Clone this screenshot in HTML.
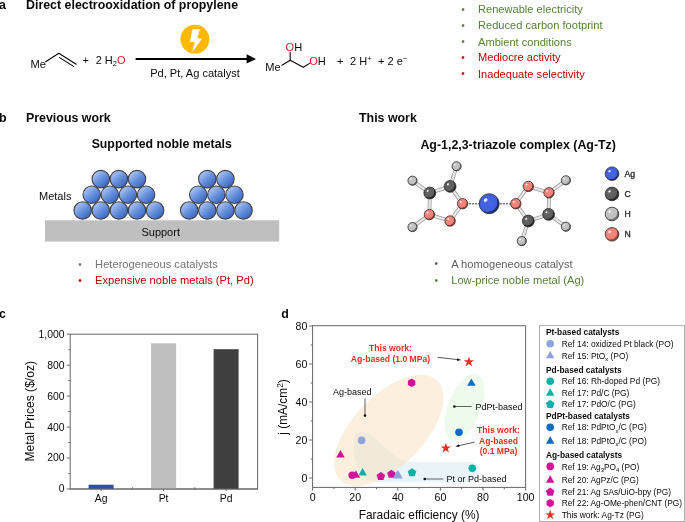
<!DOCTYPE html>
<html><head><meta charset="utf-8"><title>Figure</title>
<style>
html,body{margin:0;padding:0;background:#fff;}
svg{display:block;font-family:"Liberation Sans",sans-serif;}
text{fill:#0a0a0a;}
.b{font-weight:700;}
.g{fill:#548235;}
.r{fill:#c00000;}
.gy{fill:#747474;}
.gy2{fill:#5e5e5e;}
.tw{fill:#e0301e;font-weight:700;}
</style></head><body>
<svg width="685" height="522" viewBox="0 0 685 522">
<defs>
<linearGradient id="mb" x1="0.15" y1="0.1" x2="0.85" y2="0.9"><stop offset="0" stop-color="#b0c8f4"/><stop offset="0.5" stop-color="#6891dd"/><stop offset="1" stop-color="#3863be"/></linearGradient>
<radialGradient id="gAg" cx="0.42" cy="0.42" r="0.5"><stop offset="0" stop-color="#4766e6"/><stop offset="0.94" stop-color="#3f5fe0"/><stop offset="0.985" stop-color="#25348a"/><stop offset="1" stop-color="#222f80"/></radialGradient>
<radialGradient id="gC" cx="0.40" cy="0.40" r="0.5"><stop offset="0" stop-color="#666"/><stop offset="0.92" stop-color="#5b5b5b"/><stop offset="0.985" stop-color="#2b2b2b"/><stop offset="1" stop-color="#262626"/></radialGradient>
<radialGradient id="gH" cx="0.40" cy="0.40" r="0.5"><stop offset="0" stop-color="#c6c6c6"/><stop offset="0.92" stop-color="#bdbdbd"/><stop offset="0.985" stop-color="#7a7a7a"/><stop offset="1" stop-color="#747474"/></radialGradient>
<radialGradient id="gN" cx="0.40" cy="0.40" r="0.5"><stop offset="0" stop-color="#f28b80"/><stop offset="0.92" stop-color="#ee8076"/><stop offset="0.985" stop-color="#a84a42"/><stop offset="1" stop-color="#a0443c"/></radialGradient>
</defs>
<rect width="685" height="522" fill="#fff"/>

<text class="b" x="-0.9" y="9.2" font-size="12.4">a</text>
<text class="b" x="26" y="9.2" font-size="12.4">Direct electrooxidation of propylene</text>
<text x="30.4" y="67.9" font-size="11.1">Me</text>
<g stroke="#000" stroke-width="1.05" fill="none" stroke-linecap="round" stroke-linejoin="round"><path d="M45.6 61.8 L58.8 53.2 L76.2 64.2"/><path d="M59.6 57.6 L73.6 66.4"/></g>
<text x="82.5" y="64" font-size="11">+</text>
<text x="95.7" y="64" font-size="11">2 H<tspan font-size="7.5" dy="2.2">2</tspan><tspan dy="-2.2" fill="#d41c1c">O</tspan></text>
<path d="M135.6 58.9 H248" stroke="#000" stroke-width="2" fill="none"/><path d="M246.6 54.3 L256 58.9 L246.6 63.5 Z" fill="#000"/>
<circle cx="194.9" cy="39.25" r="14.4" fill="#ffb902"/>
<path d="M192.5 29.2 L199.9 29.2 L197.2 38.3 L201.9 38.7 L192.2 52.3 L194.8 42.2 L189.9 41.8 Z" fill="#fff"/>
<text x="150.2" y="76.6" font-size="11.05">Pd, Pt, Ag catalyst</text>
<text x="265.3" y="71.2" font-size="11.1">Me</text>
<g stroke="#000" stroke-width="1.05" fill="none" stroke-linecap="round" stroke-linejoin="round"><path d="M281.9 65.2 L290.2 60.2 L303.3 67.2 L309.6 63.4"/><path d="M290.2 60.2 V52.4"/></g>
<text x="285.6" y="50.9" font-size="11.1"><tspan fill="#d41c1c">O</tspan>H</text>
<text x="309.2" y="65.4" font-size="11.1"><tspan fill="#d41c1c">O</tspan>H</text>
<text x="337" y="64.7" font-size="11">+</text>
<text x="350" y="64.7" font-size="11">2 H<tspan font-size="7.6" dy="-3.2">+</tspan></text>
<text x="378" y="64.7" font-size="11">+ 2 e<tspan font-size="7.6" dy="-3.2">−</tspan></text>
<text class="g" x="461.25" y="12.9" font-size="10">•</text>
<text class="g" x="478.0" y="13.3" font-size="11.1">Renewable electricity</text>
<text class="g" x="461.25" y="28.5" font-size="10">•</text>
<text class="g" x="478.0" y="28.9" font-size="11.1">Reduced carbon footprint</text>
<text class="g" x="461.25" y="45.1" font-size="10">•</text>
<text class="g" x="478.0" y="45.5" font-size="11.1">Ambient conditions</text>
<text class="r" x="461.25" y="60.9" font-size="10">•</text>
<text class="r" x="478.0" y="61.3" font-size="11.1">Mediocre activity</text>
<text class="r" x="461.25" y="77.4" font-size="10">•</text>
<text class="r" x="478.0" y="77.8" font-size="11.1">Inadequate selectivity</text>
<text class="b" x="-0.9" y="122" font-size="12.4">b</text>
<text class="b" x="26" y="122" font-size="12.4">Previous work</text>
<text class="b" x="359" y="122" font-size="12.4">This work</text>
<text class="b" x="161.7" y="148.3" font-size="12.3" text-anchor="middle">Supported noble metals</text>
<text class="b" x="518.2" y="148.5" font-size="12.4" text-anchor="middle">Ag-1,2,3-triazole complex (Ag-Tz)</text>
<rect x="45" y="220.3" width="234.2" height="21.3" fill="#bfbfbf"/>
<text x="160.7" y="236" font-size="11" text-anchor="middle">Support</text>
<text x="39" y="199.5" font-size="11">Metals</text>
<circle cx="82.70" cy="210.45" r="8.75" fill="url(#mb)" stroke="#404040" stroke-width="1.1"/>
<circle cx="100.80" cy="210.45" r="8.75" fill="url(#mb)" stroke="#404040" stroke-width="1.1"/>
<circle cx="118.90" cy="210.45" r="8.75" fill="url(#mb)" stroke="#404040" stroke-width="1.1"/>
<circle cx="137.00" cy="210.45" r="8.75" fill="url(#mb)" stroke="#404040" stroke-width="1.1"/>
<circle cx="155.10" cy="210.45" r="8.75" fill="url(#mb)" stroke="#404040" stroke-width="1.1"/>
<circle cx="91.75" cy="194.77" r="8.75" fill="url(#mb)" stroke="#404040" stroke-width="1.1"/>
<circle cx="109.85" cy="194.77" r="8.75" fill="url(#mb)" stroke="#404040" stroke-width="1.1"/>
<circle cx="127.95" cy="194.77" r="8.75" fill="url(#mb)" stroke="#404040" stroke-width="1.1"/>
<circle cx="146.05" cy="194.77" r="8.75" fill="url(#mb)" stroke="#404040" stroke-width="1.1"/>
<circle cx="100.80" cy="179.10" r="8.75" fill="url(#mb)" stroke="#404040" stroke-width="1.1"/>
<circle cx="118.90" cy="179.10" r="8.75" fill="url(#mb)" stroke="#404040" stroke-width="1.1"/>
<circle cx="137.00" cy="179.10" r="8.75" fill="url(#mb)" stroke="#404040" stroke-width="1.1"/>
<circle cx="189.20" cy="210.45" r="8.75" fill="url(#mb)" stroke="#404040" stroke-width="1.1"/>
<circle cx="207.30" cy="210.45" r="8.75" fill="url(#mb)" stroke="#404040" stroke-width="1.1"/>
<circle cx="225.40" cy="210.45" r="8.75" fill="url(#mb)" stroke="#404040" stroke-width="1.1"/>
<circle cx="243.50" cy="210.45" r="8.75" fill="url(#mb)" stroke="#404040" stroke-width="1.1"/>
<circle cx="198.25" cy="194.77" r="8.75" fill="url(#mb)" stroke="#404040" stroke-width="1.1"/>
<circle cx="216.35" cy="194.77" r="8.75" fill="url(#mb)" stroke="#404040" stroke-width="1.1"/>
<circle cx="234.45" cy="194.77" r="8.75" fill="url(#mb)" stroke="#404040" stroke-width="1.1"/>
<circle cx="207.30" cy="179.10" r="8.75" fill="url(#mb)" stroke="#404040" stroke-width="1.1"/>
<circle cx="225.40" cy="179.10" r="8.75" fill="url(#mb)" stroke="#404040" stroke-width="1.1"/>
<text class="gy" x="78.25" y="267.6" font-size="10">•</text>
<text class="gy" x="95.1" y="268.0" font-size="11.15">Heterogeneous catalysts</text>
<text class="r" x="78.25" y="283.9" font-size="10">•</text>
<text class="r" x="95.1" y="284.3" font-size="11.15">Expensive noble metals (Pt, Pd)</text>
<text class="gy2" x="434.45" y="267.4" font-size="10">•</text>
<text class="gy2" x="451.2" y="267.8" font-size="11.15">A homogeneous catalyst</text>
<text class="g" x="434.45" y="283.5" font-size="10">•</text>
<text class="g" x="451.2" y="283.9" font-size="11.15">Low-price noble metal (Ag)</text>
<line x1="462.6" y1="203.7" x2="515.8" y2="203.7" stroke="#808080" stroke-width="1.5" stroke-dasharray="2.1 1"/>
<line x1="456.6" y1="166.3" x2="450.1" y2="186.4" stroke="#979797" stroke-width="3.7"/>
<line x1="456.6" y1="166.3" x2="450.1" y2="186.4" stroke="#e9e9e9" stroke-width="2.2"/>
<line x1="412.5" y1="180.7" x2="429.8" y2="193.0" stroke="#979797" stroke-width="3.7"/>
<line x1="412.5" y1="180.7" x2="429.8" y2="193.0" stroke="#e9e9e9" stroke-width="2.2"/>
<line x1="412.5" y1="227.1" x2="429.4" y2="214.6" stroke="#979797" stroke-width="3.7"/>
<line x1="412.5" y1="227.1" x2="429.4" y2="214.6" stroke="#e9e9e9" stroke-width="2.2"/>
<line x1="429.8" y1="193.0" x2="450.1" y2="186.4" stroke="#979797" stroke-width="3.7"/>
<line x1="429.8" y1="193.0" x2="450.1" y2="186.4" stroke="#e9e9e9" stroke-width="2.2"/>
<line x1="450.1" y1="186.4" x2="462.6" y2="203.7" stroke="#979797" stroke-width="3.7"/>
<line x1="450.1" y1="186.4" x2="462.6" y2="203.7" stroke="#e9e9e9" stroke-width="2.2"/>
<line x1="462.6" y1="203.7" x2="450.1" y2="221.0" stroke="#979797" stroke-width="3.7"/>
<line x1="462.6" y1="203.7" x2="450.1" y2="221.0" stroke="#e9e9e9" stroke-width="2.2"/>
<line x1="450.1" y1="221.0" x2="429.4" y2="214.6" stroke="#979797" stroke-width="3.7"/>
<line x1="450.1" y1="221.0" x2="429.4" y2="214.6" stroke="#e9e9e9" stroke-width="2.2"/>
<line x1="429.4" y1="214.6" x2="429.8" y2="193.0" stroke="#979797" stroke-width="3.7"/>
<line x1="429.4" y1="214.6" x2="429.8" y2="193.0" stroke="#e9e9e9" stroke-width="2.2"/>
<line x1="521.8" y1="241.1" x2="528.3" y2="221.0" stroke="#979797" stroke-width="3.7"/>
<line x1="521.8" y1="241.1" x2="528.3" y2="221.0" stroke="#e9e9e9" stroke-width="2.2"/>
<line x1="565.9" y1="226.7" x2="548.6" y2="214.4" stroke="#979797" stroke-width="3.7"/>
<line x1="565.9" y1="226.7" x2="548.6" y2="214.4" stroke="#e9e9e9" stroke-width="2.2"/>
<line x1="565.9" y1="180.3" x2="549.0" y2="192.8" stroke="#979797" stroke-width="3.7"/>
<line x1="565.9" y1="180.3" x2="549.0" y2="192.8" stroke="#e9e9e9" stroke-width="2.2"/>
<line x1="548.6" y1="214.4" x2="528.3" y2="221.0" stroke="#979797" stroke-width="3.7"/>
<line x1="548.6" y1="214.4" x2="528.3" y2="221.0" stroke="#e9e9e9" stroke-width="2.2"/>
<line x1="528.3" y1="221.0" x2="515.8" y2="203.7" stroke="#979797" stroke-width="3.7"/>
<line x1="528.3" y1="221.0" x2="515.8" y2="203.7" stroke="#e9e9e9" stroke-width="2.2"/>
<line x1="515.8" y1="203.7" x2="528.3" y2="186.4" stroke="#979797" stroke-width="3.7"/>
<line x1="515.8" y1="203.7" x2="528.3" y2="186.4" stroke="#e9e9e9" stroke-width="2.2"/>
<line x1="528.3" y1="186.4" x2="549.0" y2="192.8" stroke="#979797" stroke-width="3.7"/>
<line x1="528.3" y1="186.4" x2="549.0" y2="192.8" stroke="#e9e9e9" stroke-width="2.2"/>
<line x1="549.0" y1="192.8" x2="548.6" y2="214.4" stroke="#979797" stroke-width="3.7"/>
<line x1="549.0" y1="192.8" x2="548.6" y2="214.4" stroke="#e9e9e9" stroke-width="2.2"/>
<circle cx="456.6" cy="166.3" r="4.6" fill="url(#gH)" stroke="#2a2a2a" stroke-width="0.8"/>
<ellipse cx="454.94" cy="164.64" rx="0.92" ry="0.69" fill="#fff" opacity="0.9" transform="rotate(-35 454.94 164.64)"/>
<circle cx="412.5" cy="180.7" r="4.6" fill="url(#gH)" stroke="#2a2a2a" stroke-width="0.8"/>
<ellipse cx="410.84" cy="179.04" rx="0.92" ry="0.69" fill="#fff" opacity="0.9" transform="rotate(-35 410.84 179.04)"/>
<circle cx="429.8" cy="193.0" r="5.9" fill="url(#gC)" stroke="#2a2a2a" stroke-width="0.8"/>
<ellipse cx="427.68" cy="190.88" rx="1.18" ry="0.89" fill="#fff" opacity="0.9" transform="rotate(-35 427.68 190.88)"/>
<circle cx="450.1" cy="186.4" r="5.9" fill="url(#gC)" stroke="#2a2a2a" stroke-width="0.8"/>
<ellipse cx="447.98" cy="184.28" rx="1.18" ry="0.89" fill="#fff" opacity="0.9" transform="rotate(-35 447.98 184.28)"/>
<circle cx="462.6" cy="203.7" r="5.2" fill="url(#gN)" stroke="#2a2a2a" stroke-width="0.8"/>
<ellipse cx="460.73" cy="201.83" rx="1.04" ry="0.78" fill="#fff" opacity="0.9" transform="rotate(-35 460.73 201.83)"/>
<circle cx="429.4" cy="214.6" r="5.2" fill="url(#gN)" stroke="#2a2a2a" stroke-width="0.8"/>
<ellipse cx="427.53" cy="212.73" rx="1.04" ry="0.78" fill="#fff" opacity="0.9" transform="rotate(-35 427.53 212.73)"/>
<circle cx="450.1" cy="221.0" r="5.2" fill="url(#gN)" stroke="#2a2a2a" stroke-width="0.8"/>
<ellipse cx="448.23" cy="219.13" rx="1.04" ry="0.78" fill="#fff" opacity="0.9" transform="rotate(-35 448.23 219.13)"/>
<circle cx="412.5" cy="227.1" r="4.6" fill="url(#gH)" stroke="#2a2a2a" stroke-width="0.8"/>
<ellipse cx="410.84" cy="225.44" rx="0.92" ry="0.69" fill="#fff" opacity="0.9" transform="rotate(-35 410.84 225.44)"/>
<circle cx="521.8" cy="241.1" r="4.6" fill="url(#gH)" stroke="#2a2a2a" stroke-width="0.8"/>
<ellipse cx="520.14" cy="239.44" rx="0.92" ry="0.69" fill="#fff" opacity="0.9" transform="rotate(-35 520.14 239.44)"/>
<circle cx="565.9" cy="226.7" r="4.6" fill="url(#gH)" stroke="#2a2a2a" stroke-width="0.8"/>
<ellipse cx="564.24" cy="225.04" rx="0.92" ry="0.69" fill="#fff" opacity="0.9" transform="rotate(-35 564.24 225.04)"/>
<circle cx="548.6" cy="214.4" r="5.9" fill="url(#gC)" stroke="#2a2a2a" stroke-width="0.8"/>
<ellipse cx="546.48" cy="212.28" rx="1.18" ry="0.89" fill="#fff" opacity="0.9" transform="rotate(-35 546.48 212.28)"/>
<circle cx="528.3" cy="221.0" r="5.9" fill="url(#gC)" stroke="#2a2a2a" stroke-width="0.8"/>
<ellipse cx="526.18" cy="218.88" rx="1.18" ry="0.89" fill="#fff" opacity="0.9" transform="rotate(-35 526.18 218.88)"/>
<circle cx="515.8" cy="203.7" r="5.2" fill="url(#gN)" stroke="#2a2a2a" stroke-width="0.8"/>
<ellipse cx="513.93" cy="201.83" rx="1.04" ry="0.78" fill="#fff" opacity="0.9" transform="rotate(-35 513.93 201.83)"/>
<circle cx="549.0" cy="192.8" r="5.2" fill="url(#gN)" stroke="#2a2a2a" stroke-width="0.8"/>
<ellipse cx="547.13" cy="190.93" rx="1.04" ry="0.78" fill="#fff" opacity="0.9" transform="rotate(-35 547.13 190.93)"/>
<circle cx="528.3" cy="186.4" r="5.2" fill="url(#gN)" stroke="#2a2a2a" stroke-width="0.8"/>
<ellipse cx="526.43" cy="184.53" rx="1.04" ry="0.78" fill="#fff" opacity="0.9" transform="rotate(-35 526.43 184.53)"/>
<circle cx="565.9" cy="180.3" r="4.6" fill="url(#gH)" stroke="#2a2a2a" stroke-width="0.8"/>
<ellipse cx="564.24" cy="178.64" rx="0.92" ry="0.69" fill="#fff" opacity="0.9" transform="rotate(-35 564.24 178.64)"/>
<circle cx="489.2" cy="203.7" r="10" fill="url(#gAg)" stroke="#2a2a2a" stroke-width="0.8"/>
<ellipse cx="485.60" cy="200.10" rx="2.00" ry="1.50" fill="#fff" opacity="0.9" transform="rotate(-35 485.60 200.10)"/>
<circle cx="612.0" cy="173.7" r="6.8" fill="url(#gAg)" stroke="#2a2a2a" stroke-width="0.8"/>
<ellipse cx="609.55" cy="171.25" rx="1.36" ry="1.02" fill="#fff" opacity="0.9" transform="rotate(-35 609.55 171.25)"/>
<text x="624.5" y="176.7" font-size="8.7" fill="#333" stroke="#333" stroke-width="0.3">Ag</text>
<circle cx="612.0" cy="193.9" r="6.8" fill="url(#gC)" stroke="#2a2a2a" stroke-width="0.8"/>
<ellipse cx="609.55" cy="191.45" rx="1.36" ry="1.02" fill="#fff" opacity="0.9" transform="rotate(-35 609.55 191.45)"/>
<text x="624.5" y="196.9" font-size="8.7" fill="#333" stroke="#333" stroke-width="0.3">C</text>
<circle cx="612.0" cy="214.0" r="6.8" fill="url(#gH)" stroke="#2a2a2a" stroke-width="0.8"/>
<ellipse cx="609.55" cy="211.55" rx="1.36" ry="1.02" fill="#fff" opacity="0.9" transform="rotate(-35 609.55 211.55)"/>
<text x="624.5" y="217.0" font-size="8.7" fill="#333" stroke="#333" stroke-width="0.3">H</text>
<circle cx="612.0" cy="234.3" r="6.8" fill="url(#gN)" stroke="#2a2a2a" stroke-width="0.8"/>
<ellipse cx="609.55" cy="231.85" rx="1.36" ry="1.02" fill="#fff" opacity="0.9" transform="rotate(-35 609.55 231.85)"/>
<text x="624.5" y="237.3" font-size="8.7" fill="#333" stroke="#333" stroke-width="0.3">N</text>
<text class="b" x="-0.9" y="318" font-size="12.4">c</text>
<rect x="70.2" y="334.2" width="187.40000000000003" height="154.8" fill="none" stroke="#666" stroke-width="1"/>
<line x1="66.8" y1="489.0" x2="70.2" y2="489.0" stroke="#666" stroke-width="1"/>
<text x="64.5" y="492.2" font-size="10.4" text-anchor="end">0</text>
<line x1="68.4" y1="473.5" x2="70.2" y2="473.5" stroke="#666" stroke-width="1"/>
<line x1="66.8" y1="458.0" x2="70.2" y2="458.0" stroke="#666" stroke-width="1"/>
<text x="64.5" y="461.3" font-size="10.4" text-anchor="end">200</text>
<line x1="68.4" y1="442.6" x2="70.2" y2="442.6" stroke="#666" stroke-width="1"/>
<line x1="66.8" y1="427.1" x2="70.2" y2="427.1" stroke="#666" stroke-width="1"/>
<text x="64.5" y="430.5" font-size="10.4" text-anchor="end">400</text>
<line x1="68.4" y1="411.6" x2="70.2" y2="411.6" stroke="#666" stroke-width="1"/>
<line x1="66.8" y1="396.1" x2="70.2" y2="396.1" stroke="#666" stroke-width="1"/>
<text x="64.5" y="399.6" font-size="10.4" text-anchor="end">600</text>
<line x1="68.4" y1="380.6" x2="70.2" y2="380.6" stroke="#666" stroke-width="1"/>
<line x1="66.8" y1="365.2" x2="70.2" y2="365.2" stroke="#666" stroke-width="1"/>
<text x="64.5" y="368.8" font-size="10.4" text-anchor="end">800</text>
<line x1="68.4" y1="349.7" x2="70.2" y2="349.7" stroke="#666" stroke-width="1"/>
<line x1="66.8" y1="334.2" x2="70.2" y2="334.2" stroke="#666" stroke-width="1"/>
<text x="64.5" y="337.9" font-size="10.4" text-anchor="end">1,000</text>
<rect x="88.6" y="484.7" width="25" height="4.3" fill="#2f4fa0"/>
<line x1="101.1" y1="489.0" x2="101.1" y2="491.0" stroke="#666" stroke-width="1"/>
<text x="101.1" y="501.9" font-size="10.4" text-anchor="middle">Ag</text>
<line x1="132.3" y1="489.0" x2="132.3" y2="487.2" stroke="#666" stroke-width="1"/>
<rect x="151.1" y="343.3" width="25" height="145.7" fill="#bfbfbf"/>
<line x1="163.6" y1="489.0" x2="163.6" y2="491.0" stroke="#666" stroke-width="1"/>
<text x="163.6" y="501.9" font-size="10.4" text-anchor="middle">Pt</text>
<line x1="194.8" y1="489.0" x2="194.8" y2="487.2" stroke="#666" stroke-width="1"/>
<rect x="213.6" y="349.2" width="25" height="139.8" fill="#404040"/>
<line x1="226.1" y1="489.0" x2="226.1" y2="491.0" stroke="#666" stroke-width="1"/>
<text x="226.1" y="501.9" font-size="10.4" text-anchor="middle">Pd</text>
<line x1="70.2" y1="489.0" x2="257.6" y2="489.0" stroke="#666" stroke-width="1"/>
<text transform="translate(33.7 411.3) rotate(-90)" font-size="12.05" text-anchor="middle">Metal Prices ($/oz)</text>
<text class="b" x="281.3" y="318" font-size="12.4">d</text>
<clipPath id="cd"><rect x="312.6" y="325.7" width="213.0" height="161.7"/></clipPath>
<g clip-path="url(#cd)">
<clipPath id="ce"><ellipse cx="388.8" cy="430.4" rx="69.6" ry="35.3" transform="rotate(-45.8 388.8 430.4)"/></clipPath>
<path d="M353.5 442 C353.5 432 359 430.8 366 432.8 C378 436 389 457 407 461.8 L469 461.8 C483.5 461.8 483.5 482.5 466 482.5 L382 482.5 C362 482.5 353.5 470 353.5 442 Z" fill="#a5d0e8" fill-opacity="0.24"/>
<ellipse cx="388.8" cy="430.4" rx="69.6" ry="35.3" transform="rotate(-45.8 388.8 430.4)" fill="#fff"/>
<ellipse cx="388.8" cy="430.4" rx="69.6" ry="35.3" transform="rotate(-45.8 388.8 430.4)" fill="#f2bc73" fill-opacity="0.245"/>
<path d="M353.5 442 C353.5 432 359 430.8 366 432.8 C378 436 389 457 407 461.8 L469 461.8 C483.5 461.8 483.5 482.5 466 482.5 L382 482.5 C362 482.5 353.5 470 353.5 442 Z" fill="#cad7d1" fill-opacity="0.2" clip-path="url(#ce)"/>
<ellipse cx="464.5" cy="407.4" rx="35.3" ry="16.2" transform="rotate(-68.8 464.5 407.4)" fill="#b7ebb3" fill-opacity="0.25"/>
</g>
<rect x="312.6" y="325.7" width="213.0" height="161.7" fill="none" stroke="#666" stroke-width="1"/>
<line x1="309.20000000000005" y1="478.0" x2="312.6" y2="478.0" stroke="#666" stroke-width="1"/>
<text x="307.40000000000003" y="481.8" font-size="10.6" text-anchor="end">0</text>
<line x1="310.8" y1="459.0" x2="312.6" y2="459.0" stroke="#666" stroke-width="1"/>
<line x1="309.20000000000005" y1="440.0" x2="312.6" y2="440.0" stroke="#666" stroke-width="1"/>
<text x="307.40000000000003" y="443.8" font-size="10.6" text-anchor="end">20</text>
<line x1="310.8" y1="421.0" x2="312.6" y2="421.0" stroke="#666" stroke-width="1"/>
<line x1="309.20000000000005" y1="402.0" x2="312.6" y2="402.0" stroke="#666" stroke-width="1"/>
<text x="307.40000000000003" y="405.8" font-size="10.6" text-anchor="end">40</text>
<line x1="310.8" y1="383.0" x2="312.6" y2="383.0" stroke="#666" stroke-width="1"/>
<line x1="309.20000000000005" y1="364.0" x2="312.6" y2="364.0" stroke="#666" stroke-width="1"/>
<text x="307.40000000000003" y="367.8" font-size="10.6" text-anchor="end">60</text>
<line x1="310.8" y1="345.0" x2="312.6" y2="345.0" stroke="#666" stroke-width="1"/>
<line x1="309.20000000000005" y1="326.0" x2="312.6" y2="326.0" stroke="#666" stroke-width="1"/>
<text x="307.40000000000003" y="329.8" font-size="10.6" text-anchor="end">80</text>
<line x1="312.6" y1="487.4" x2="312.6" y2="490.59999999999997" stroke="#666" stroke-width="1"/>
<text x="312.6" y="501.2" font-size="10.6" text-anchor="middle">0</text>
<line x1="333.9" y1="487.4" x2="333.9" y2="489.2" stroke="#666" stroke-width="1"/>
<line x1="355.2" y1="487.4" x2="355.2" y2="490.59999999999997" stroke="#666" stroke-width="1"/>
<text x="355.2" y="501.2" font-size="10.6" text-anchor="middle">20</text>
<line x1="376.5" y1="487.4" x2="376.5" y2="489.2" stroke="#666" stroke-width="1"/>
<line x1="397.8" y1="487.4" x2="397.8" y2="490.59999999999997" stroke="#666" stroke-width="1"/>
<text x="397.8" y="501.2" font-size="10.6" text-anchor="middle">40</text>
<line x1="419.1" y1="487.4" x2="419.1" y2="489.2" stroke="#666" stroke-width="1"/>
<line x1="440.4" y1="487.4" x2="440.4" y2="490.59999999999997" stroke="#666" stroke-width="1"/>
<text x="440.4" y="501.2" font-size="10.6" text-anchor="middle">60</text>
<line x1="461.7" y1="487.4" x2="461.7" y2="489.2" stroke="#666" stroke-width="1"/>
<line x1="483.0" y1="487.4" x2="483.0" y2="490.59999999999997" stroke="#666" stroke-width="1"/>
<text x="483.0" y="501.2" font-size="10.6" text-anchor="middle">80</text>
<line x1="504.3" y1="487.4" x2="504.3" y2="489.2" stroke="#666" stroke-width="1"/>
<line x1="525.6" y1="487.4" x2="525.6" y2="490.59999999999997" stroke="#666" stroke-width="1"/>
<text x="525.6" y="501.2" font-size="10.6" text-anchor="middle">100</text>
<text x="419.1" y="518.8" font-size="11.9" text-anchor="middle">Faradaic efficiency (%)</text>
<text transform="translate(286.9 407.0) rotate(-90)" font-size="11.9" text-anchor="middle">j (mA/cm<tspan font-size="8.3" dy="-4.4">2</tspan><tspan dy="4.4">)</tspan></text>
<circle cx="361.6" cy="440.4" r="3.8" fill="#8fa3dc"/>
<polygon points="340.50,450.10 344.74,457.45 336.26,457.45" fill="#d3129a"/>
<circle cx="352.2" cy="475.2" r="3.8" fill="#d3129a"/>
<polygon points="355.90,470.30 360.14,477.65 351.66,477.65" fill="#d3129a"/>
<polygon points="362.60,468.10 366.84,475.45 358.36,475.45" fill="#10afa7"/>
<polygon points="380.80,471.90 385.08,475.01 383.45,480.04 378.15,480.04 376.52,475.01" fill="#d3129a"/>
<polygon points="391.40,469.70 395.68,472.81 394.05,477.84 388.75,477.84 387.12,472.81" fill="#d3129a"/>
<polygon points="397.80,469.80 402.82,478.50 392.78,478.50" fill="#8fa3dc"/>
<polygon points="412.00,468.20 416.28,471.31 414.65,476.34 409.35,476.34 407.72,471.31" fill="#10afa7"/>
<polygon points="411.60,378.50 415.32,380.65 415.32,384.95 411.60,387.10 407.88,384.95 407.88,380.65" fill="#d3129a"/>
<polygon points="471.40,378.50 475.64,385.85 467.16,385.85" fill="#0f6cc0"/>
<circle cx="459.0" cy="432.3" r="3.8" fill="#0f6cc0"/>
<circle cx="472.3" cy="468.3" r="3.8" fill="#10afa7"/>
<polygon points="468.90,356.50 470.13,360.20 474.04,360.23 470.90,362.55 472.07,366.27 468.90,364.00 465.73,366.27 466.90,362.55 463.76,360.23 467.67,360.20" fill="#e0301e"/>
<polygon points="445.80,442.80 447.03,446.50 450.94,446.53 447.80,448.85 448.97,452.57 445.80,450.30 442.63,452.57 443.80,448.85 440.66,446.53 444.57,446.50" fill="#e0301e"/>
<text class="tw" x="390.5" y="350.8" font-size="8.6" text-anchor="middle">This work:</text>
<text class="tw" x="390.5" y="361.8" font-size="8.6" text-anchor="middle">Ag-based (1.0 MPa)</text>
<path d="M437.5 357.3 L458.5 359.7" stroke="#111" stroke-width="0.7"/><path d="M461.1 360.0 L457.0 361.1 L457.3 358.3 Z" fill="#111"/>
<text class="tw" x="498.5" y="432.8" font-size="8.6" text-anchor="middle">This work:</text>
<text class="tw" x="498.5" y="443.6" font-size="8.6" text-anchor="middle">Ag-based</text>
<text class="tw" x="498.5" y="454.4" font-size="8.6" text-anchor="middle">(0.1 MPa)</text>
<path d="M474.4 442.2 L458 445.8" stroke="#111" stroke-width="0.7"/><path d="M455.4 446.4 L458.9 444.2 L459.5 446.9 Z" fill="#111"/>
<text x="333" y="395.2" font-size="9">Ag-based</text>
<path d="M365 398.5 V415.5" stroke="#222" stroke-width="0.7"/><circle cx="365" cy="415.6" r="1.3" fill="#111"/>
<text x="475.5" y="409.7" font-size="9">PdPt-based</text>
<path d="M454.4 406.5 H471.7" stroke="#222" stroke-width="0.7"/><circle cx="454.4" cy="406.5" r="1.3" fill="#111"/>
<text x="446.4" y="482.2" font-size="9">Pt or Pd-based</text>
<path d="M424.7 479 H443.2" stroke="#222" stroke-width="0.7"/><circle cx="424.7" cy="479" r="1.3" fill="#111"/>
<rect x="539.5" y="325.6" width="145" height="195.9" fill="#fff" stroke="#adadad" stroke-width="1"/>
<text class="b" x="546" y="335.4" font-size="8.35">Pt-based catalysts</text>
<circle cx="550.2" cy="343.8" r="3.8" fill="#8fa3dc"/>
<text x="561.7" y="347.1" font-size="8.35">Ref 14: oxidized Pt black (PO)</text>
<polygon points="550.20,350.90 554.44,358.25 545.96,358.25" fill="#8fa3dc"/>
<text x="561.7" y="358.8" font-size="8.35">Ref 15: PtO<tspan font-size="5.9" dy="2.2">x</tspan><tspan dy="-2.2"> (PO)</tspan></text>
<text class="b" x="546" y="372.8" font-size="8.35">Pd-based catalysts</text>
<circle cx="550.2" cy="381.2" r="3.8" fill="#10afa7"/>
<text x="561.7" y="384.4" font-size="8.35">Ref 16: Rh-doped Pd (PG)</text>
<polygon points="550.20,388.30 554.44,395.65 545.96,395.65" fill="#10afa7"/>
<text x="561.7" y="396.1" font-size="8.35">Ref 17: Pd/C (PG)</text>
<polygon points="550.20,399.80 554.48,402.91 552.85,407.94 547.55,407.94 545.92,402.91" fill="#10afa7"/>
<text x="561.7" y="407.4" font-size="8.35">Ref 17: PdO/C (PG)</text>
<text class="b" x="546" y="419.2" font-size="8.35">PdPt-based catalysts</text>
<circle cx="550.2" cy="427.3" r="3.8" fill="#0f6cc0"/>
<text x="561.7" y="430.4" font-size="8.35">Ref 18: PdPtO<tspan font-size="5.9" dy="2.2">x</tspan><tspan dy="-2.2">/C (PG)</tspan></text>
<polygon points="550.20,436.30 554.44,443.65 545.96,443.65" fill="#0f6cc0"/>
<text x="561.7" y="444.2" font-size="8.35">Ref 18: PdPtO<tspan font-size="5.9" dy="2.2">x</tspan><tspan dy="-2.2">/C (PO)</tspan></text>
<text class="b" x="546" y="458.3" font-size="8.35">Ag-based catalysts</text>
<circle cx="550.2" cy="466.4" r="3.8" fill="#d3129a"/>
<text x="561.7" y="469.6" font-size="8.35">Ref 19: Ag<tspan font-size="5.9" dy="2.2">3</tspan><tspan dy="-2.2">PO</tspan><tspan font-size="5.9" dy="2.2">4</tspan><tspan dy="-2.2"> (PO)</tspan></text>
<polygon points="550.20,475.30 554.44,482.65 545.96,482.65" fill="#d3129a"/>
<text x="561.7" y="483.2" font-size="8.35">Ref 20: AgPz/C (PG)</text>
<polygon points="550.20,487.60 554.48,490.71 552.85,495.74 547.55,495.74 545.92,490.71" fill="#d3129a"/>
<text x="561.7" y="495.1" font-size="8.35">Ref 21: Ag SAs/UiO-bpy (PG)</text>
<polygon points="550.20,498.90 553.84,501.00 553.84,505.20 550.20,507.30 546.56,505.20 546.56,501.00" fill="#d3129a"/>
<text x="561.7" y="506.4" font-size="8.35">Ref 22: Ag-OMe-phen/CNT (PG)</text>
<polygon points="550.20,509.80 551.38,513.38 555.15,513.39 552.10,515.62 553.26,519.21 550.20,517.00 547.14,519.21 548.30,515.62 545.25,513.39 549.02,513.38" fill="#e0301e"/>
<text x="561.7" y="518.0" font-size="8.35">This work: Ag-Tz (PG)</text>
</svg></body></html>
